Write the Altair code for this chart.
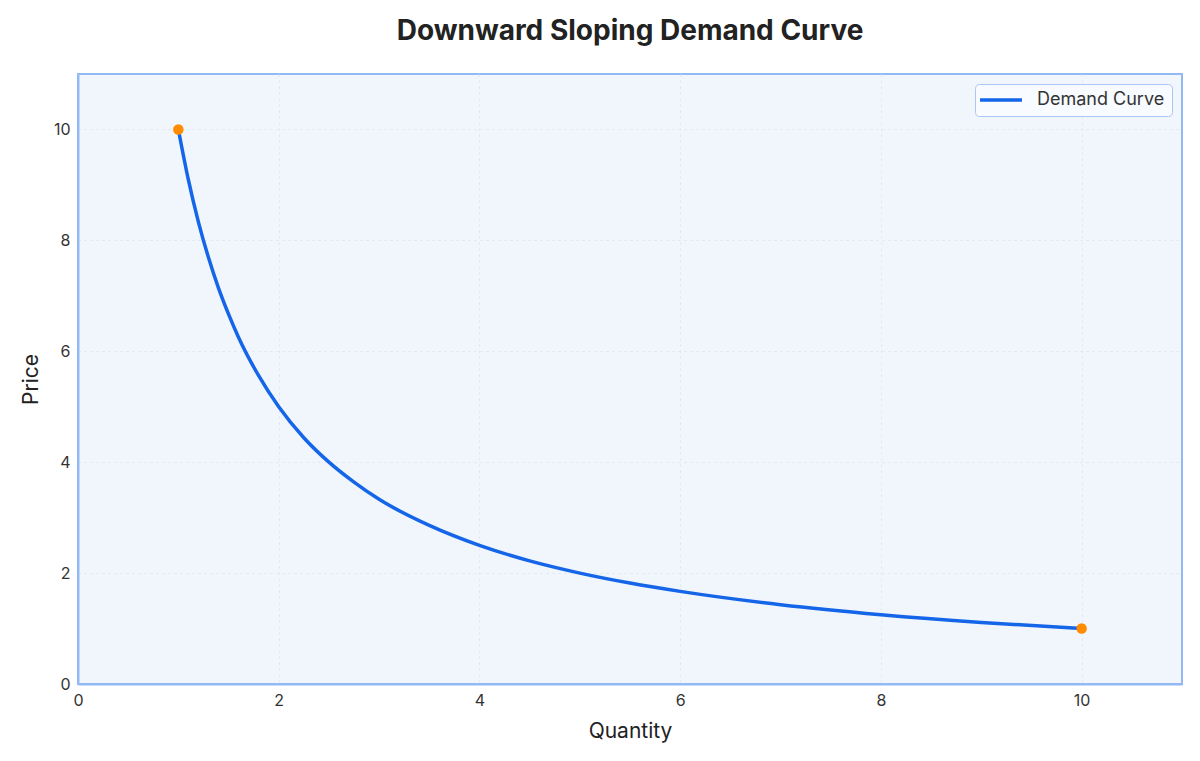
import altair as alt
import pandas as pd

# values
quantity = [1, 1.1, 1.2, 1.3, 1.4, 1.5, 1.6, 1.8, 2, 2.25, 2.5, 2.75, 3, 3.5,
            4, 4.5, 5, 5.5, 6, 7, 8, 9, 10]
price = [10, 9.09, 8.33, 7.69, 7.14, 6.67, 6.25, 5.56, 5, 4.44, 4, 3.64, 3.33,
         2.86, 2.5, 2.22, 2, 1.82, 1.67, 1.43, 1.25, 1.11, 1]
end_quantity = [1, 10]
end_price = [10, 1]
tick_values = [0, 2, 4, 6, 8, 10]

FONT = 'Inter'

curve = pd.DataFrame({'Quantity': quantity, 'Price': price, 'series': 'Demand Curve'})
ends = pd.DataFrame({'Quantity': end_quantity, 'Price': end_price})

x_enc = alt.X(
    'Quantity:Q',
    scale=alt.Scale(domain=[0, 11], nice=False),
    axis=alt.Axis(values=tick_values, format='d', title='Quantity'),
)
y_enc = alt.Y(
    'Price:Q',
    scale=alt.Scale(domain=[0, 11], nice=False),
    axis=alt.Axis(values=tick_values, format='d', title='Price'),
)

line = alt.Chart(curve).mark_line(strokeWidth=3.5, interpolate='monotone').encode(
    x=x_enc,
    y=y_enc,
    color=alt.Color(
        'series:N',
        scale=alt.Scale(range=['#1565e8']),
        legend=alt.Legend(
            title=None,
            orient='top-right',
            offset=10,
            # wide flat line symbol, drawn from a custom path
            symbolType='M-2.75,0L7.75,0',
            symbolStrokeWidth=3.5,
            symbolSize=64,
            labelFont=FONT,
            labelFontSize=18,
            labelColor='#333333',
            labelOffset=37,
            fillColor='#f8fbff',
            strokeColor='#a9c7f5',
            cornerRadius=4,
            padding=7,
        ),
    ),
)

dots = alt.Chart(ends).mark_circle(size=110, color='#ff8c00', opacity=1).encode(
    x='Quantity:Q',
    y='Price:Q',
)

chart = alt.layer(line, dots).properties(
    width=1104,
    height=610,
    autosize=alt.AutoSizeParams(type='none'),
    padding={'left': 70, 'top': 66, 'right': 10, 'bottom': 69},
    title=alt.TitleParams(
        'Downward Sloping Demand Curve',
        font=FONT,
        fontSize=28,
        fontWeight='bold',
        color='#222222',
        anchor='middle',
        offset=28,
    ),
).configure_view(
    fill='#f1f6fd',
    stroke='#93b9f5',
    strokeWidth=2,
).configure_axis(
    domain=True,
    domainColor='#93b9f5',
    domainWidth=2,
    ticks=False,
    labelFlush=False,
    labelFont=FONT,
    labelFontSize=16,
    labelColor='#333333',
    labelPadding=8,
    titleFont=FONT,
    titleFontSize=21,
    titleFontWeight='normal',
    titleColor='#222222',
    gridColor='#dce5f0',
    gridDash=[2, 4],
    gridWidth=1,
).configure_axisX(
    titlePadding=12,
).configure_axisY(
    titlePadding=12,
)

chart.save('out.html', embed_options={'renderer': 'svg', 'actions': False})
